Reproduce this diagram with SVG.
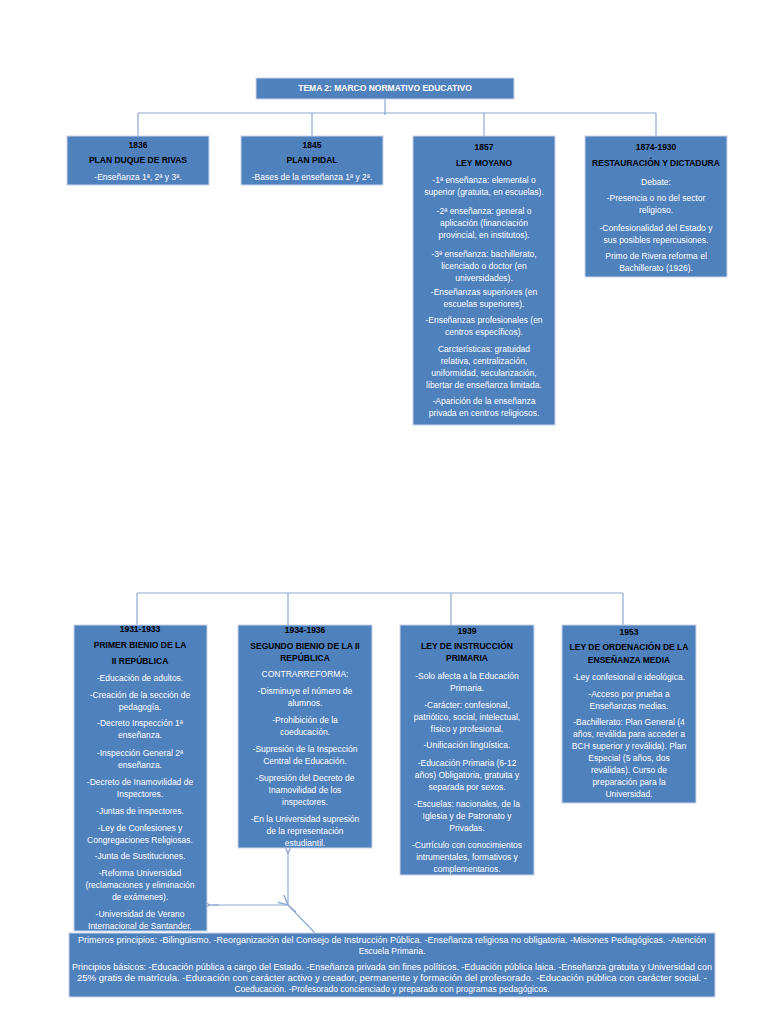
<svg xmlns="http://www.w3.org/2000/svg" width="768" height="1024" viewBox="0 0 768 1024">
<style>
.b{fill:#4F81BD;stroke:#C9D6EA;stroke-width:1}
text{font-family:"Liberation Sans Narrow","Liberation Sans",Arial,sans-serif;font-size:8.5px;fill:#fff;text-anchor:middle}
.h{font-weight:bold;fill:#000;font-size:8.5px}
.t{font-weight:bold}
.c{fill:none;stroke:#8EA9D0;stroke-width:1.2}
</style>
<defs><marker id="a" markerWidth="10" markerHeight="10" refX="1" refY="5" orient="auto"><path d="M9,1 L1,5 L9,9" fill="none" stroke="#8EA9D0" stroke-width="1.2"/></marker></defs>
<g id="connectors">
<path class="c" d="M385,99V115 M138,113H656 M138,113V136 M312,113V136 M484,113V136 M656,113V136"/>
<path class="c" d="M137,593H623 M137,593V625 M288,593V625 M451,593V625 M623,593V625"/>
<path class="c" d="M315,933L288,905"/>
<path class="c" d="M288,905V853" marker-end="url(#a)" transform="" />
<path class="c" d="M288,905H212"/>
<path class="c" d="M212,905L212,905" />
<path class="c" d="M219,905H210" marker-end="url(#a)"/>
<path class="c" d="M296,912L288,905" marker-end="url(#a)"/>
</g>
<g id="title"><rect class="b" x="256" y="78" width="258" height="21"/><text x="385" y="91" class="t">TEMA 2: MARCO NORMATIVO EDUCATIVO</text></g>
<g id="n1836"><rect class="b" x="67" y="136" width="142" height="49"/>
<text class="h" x="138" y="148">1836</text><text class="h" x="138" y="163">PLAN DUQUE DE RIVAS</text><text x="138" y="180">-Enseñanza 1ª, 2ª y 3ª.</text></g>
<g id="n1845"><rect class="b" x="241" y="136" width="142" height="49"/>
<text class="h" x="312" y="148">1845</text><text class="h" x="312" y="163">PLAN PIDAL</text><text x="312" y="180">-Bases de la enseñanza 1ª y 2ª.</text></g>
<g id="n1857"><rect class="b" x="413" y="136" width="142" height="289"/>
<text class="h" x="484" y="150">1857</text><text class="h" x="484" y="166">LEY MOYANO</text>
<text x="484" y="183">-1ª enseñanza: elemental o</text><text x="484" y="195">superior (gratuita, en escuelas).</text>
<text x="484" y="214">-2ª enseñanza: general o</text><text x="484" y="226">aplicación (financiación</text><text x="484" y="238">provincial, en institutos).</text>
<text x="484" y="257">-3ª enseñanza: bachillerato,</text><text x="484" y="269">licenciado o doctor (en</text><text x="484" y="281">universidades).</text>
<text x="484" y="295">-Enseñanzas superiores (en</text><text x="484" y="307">escuelas superiores).</text>
<text x="484" y="323">-Enseñanzas profesionales (en</text><text x="484" y="335">centros específicos).</text>
<text x="484" y="352">Carcterísticas: gratuidad</text><text x="484" y="364">relativa, centralización,</text><text x="484" y="376">uniformidad, secularización,</text><text x="484" y="388">libertar de enseñanza limitada.</text>
<text x="484" y="404">-Aparición de la enseñanza</text><text x="484" y="416">privada en centros religiosos.</text></g>
<g id="n1874"><rect class="b" x="585" y="136" width="142" height="141"/>
<text class="h" x="656" y="150">1874-1930</text><text class="h" x="656" y="166">RESTAURACIÓN Y DICTADURA</text>
<text x="656" y="185">Debate:</text><text x="656" y="201">-Presencia o no del sector</text><text x="656" y="213">religioso.</text>
<text x="656" y="231">-Confesionalidad del Estado y</text><text x="656" y="243">sus posibles repercusiones.</text>
<text x="656" y="259">Primo de Rivera reforma el</text><text x="656" y="271">Bachillerato (1926).</text></g>
<g id="n1931"><rect class="b" x="74" y="625" width="133" height="306"/>
<text class="h" x="140" y="632">1931-1933</text><text class="h" x="140" y="648">PRIMER BIENIO DE LA</text><text class="h" x="140" y="664">II REPÚBLICA</text>
<text x="140" y="681">-Educación de adultos.</text>
<text x="140" y="698">-Creación de la sección de</text><text x="140" y="710">pedagogía.</text>
<text x="140" y="726">-Decreto Inspección 1ª</text><text x="140" y="738">enseñanza.</text>
<text x="140" y="756">-Inspección General 2ª</text><text x="140" y="768">enseñanza.</text>
<text x="140" y="785">-Decreto de Inamovilidad de</text><text x="140" y="797">Inspectores.</text>
<text x="140" y="814">-Juntas de inspectores.</text>
<text x="140" y="831">-Ley de Confesiones y</text><text x="140" y="843">Congregaciones Religiosas.</text>
<text x="140" y="859">-Junta de Sustituciones.</text>
<text x="140" y="876">-Reforma Universidad</text><text x="140" y="888">(reclamaciones y eliminación</text><text x="140" y="900">de exámenes).</text>
<text x="140" y="917">-Universidad de Verano</text><text x="140" y="929">Internacional de Santander.</text></g>
<g id="n1934"><rect class="b" x="238" y="625" width="134" height="223"/>
<text class="h" x="305" y="633">1934-1936</text><text class="h" x="305" y="649">SEGUNDO BIENIO DE LA II</text><text class="h" x="305" y="661">REPÚBLICA</text>
<text x="305" y="677">CONTRARREFORMA:</text>
<text x="305" y="694">-Disminuye el número de</text><text x="305" y="706">alumnos.</text>
<text x="305" y="723">-Prohibición de la</text><text x="305" y="735">coeducación.</text>
<text x="305" y="752">-Supresión de la Inspección</text><text x="305" y="764">Central de Educación.</text>
<text x="305" y="781">-Supresión del Decreto de</text><text x="305" y="793">Inamovilidad de los</text><text x="305" y="805">inspectores.</text>
<text x="305" y="822">-En la Universidad supresión</text><text x="305" y="834">de la representación</text><text x="305" y="846">estudiantil.</text></g>
<g id="n1939"><rect class="b" x="400" y="625" width="134" height="250"/>
<text class="h" x="467" y="634">1939</text><text class="h" x="467" y="649">LEY DE INSTRUCCIÓN</text><text class="h" x="467" y="661">PRIMARIA</text>
<text x="467" y="679">-Solo afecta a la Educación</text><text x="467" y="691">Primaria.</text>
<text x="467" y="708">-Carácter: confesional,</text><text x="467" y="720">patriótico, social, intelectual,</text><text x="467" y="732">físico y profesional.</text>
<text x="467" y="748">-Unificación lingüística.</text>
<text x="467" y="766">-Educación Primaria (6-12</text><text x="467" y="778">años) Obligatoria, gratuita y</text><text x="467" y="790">separada por sexos.</text>
<text x="467" y="807">-Escuelas: nacionales, de la</text><text x="467" y="819">Iglesia y de Patronato y</text><text x="467" y="831">Privadas.</text>
<text x="467" y="848">-Currículo con conocimientos</text><text x="467" y="860">intrumentales, formativos y</text><text x="467" y="872">complementarios.</text></g>
<g id="n1953"><rect class="b" x="562" y="625" width="134" height="178"/>
<text class="h" x="629" y="635">1953</text><text class="h" x="629" y="650">LEY DE ORDENACIÓN DE LA</text><text class="h" x="629" y="663">ENSEÑANZA MEDIA</text>
<text x="629" y="680">-Ley confesional e ideológica.</text>
<text x="629" y="697">-Acceso por prueba a</text><text x="629" y="709">Enseñanzas medias.</text>
<text x="629" y="725">-Bachillerato: Plan General (4</text><text x="629" y="737">años, reválida para acceder a</text><text x="629" y="749">BCH superior y reválida). Plan</text><text x="629" y="761">Especial (5 años, dos</text><text x="629" y="773">reválidas). Curso de</text><text x="629" y="785">preparación para la</text><text x="629" y="797">Universidad.</text></g>
<g id="principios"><rect class="b" x="69" y="933" width="646" height="64"/>
<text x="392" y="943" textLength="628" lengthAdjust="spacingAndGlyphs">Primeros principios: -Bilingüismo. -Reorganización del Consejo de Instrucción Pública. -Enseñanza religiosa no obligatoria. -Misiones Pedagógicas. -Atención</text>
<text x="392" y="954">Escuela Primaria.</text>
<text x="392" y="970" textLength="640" lengthAdjust="spacingAndGlyphs">Principios básicos: -Educación pública a cargo del Estado. -Enseñanza privada sin fines políticos. -Eduación pública laica. -Enseñanza gratuita y Universidad con</text>
<text x="392" y="981" textLength="630" lengthAdjust="spacingAndGlyphs">25% gratis de matrícula. -Educación con carácter activo y creador, permanente y formación del profesorado. -Educación pública con carácter social. -</text>
<text x="392" y="992">Coeducación. -Profesorado concienciado y preparado con programas pedagógicos.</text></g>
</svg>
